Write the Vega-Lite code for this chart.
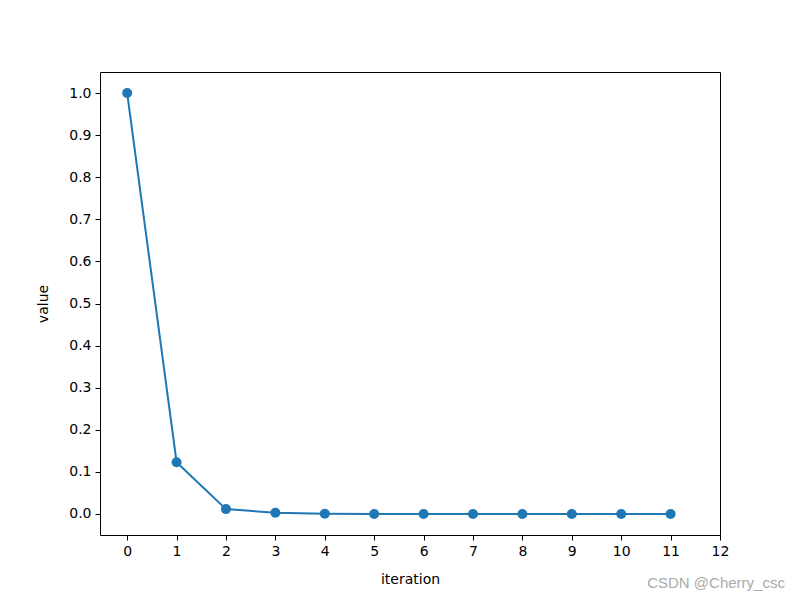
{
  "$schema": "https://vega.github.io/schema/vega-lite/v6.json",
  "autosize": "none",
  "width": 620,
  "height": 463,
  "padding": {"left": 100, "top": 72, "right": 80, "bottom": 65},
  "background": "white",
  "config": {
    "view": {"stroke": "black", "strokeWidth": 1},
    "font": "DejaVu Sans",
    "axis": {
      "grid": false,
      "domain": false,
      "tickColor": "black",
      "tickSize": 5,
      "tickWidth": 1,
      "labelColor": "black",
      "labelFont": "DejaVu Sans",
      "labelFontSize": 14,
      "labelPadding": 4,
      "titleFont": "DejaVu Sans",
      "titleFontSize": 14,
      "titleFontWeight": "normal",
      "titleColor": "black"
    }
  },
  "title": {
    "text": "CSDN @Cherry_csc",
    "orient": "bottom",
    "anchor": "end",
    "fontSize": 15,
    "font": "Liberation Sans",
    "fontWeight": "normal",
    "color": "#aaaaaa",
    "offset": -10,
    "dx": 56
  },
  "data": {
    "values": [
      {"iteration": 0, "value": 1.0},
      {"iteration": 1, "value": 0.123},
      {"iteration": 2, "value": 0.0115},
      {"iteration": 3, "value": 0.003},
      {"iteration": 4, "value": 0.0003},
      {"iteration": 5, "value": 0.00002},
      {"iteration": 6, "value": 0.0},
      {"iteration": 7, "value": 0.0},
      {"iteration": 8, "value": 0.0},
      {"iteration": 9, "value": 0.0},
      {"iteration": 10, "value": 0.0},
      {"iteration": 11, "value": 0.0}
    ]
  },
  "encoding": {
    "x": {
      "field": "iteration",
      "type": "quantitative",
      "scale": {"domain": [-0.55, 12], "nice": false, "zero": false},
      "axis": {"values": [0,1,2,3,4,5,6,7,8,9,10,11,12], "format": "d", "title": "iteration", "titlePadding": 14, "labelFlush": false, "labelOverlap": false}
    },
    "y": {
      "field": "value",
      "type": "quantitative",
      "scale": {"domain": [-0.05, 1.05], "nice": false, "zero": false},
      "axis": {"values": [0,0.1,0.2,0.3,0.4,0.5,0.6,0.7,0.8,0.9,1.0], "format": ".1f", "title": "value", "titlePadding": 18, "labelFlush": false, "labelOverlap": false}
    }
  },
  "layer": [
    {"mark": {"type": "line", "color": "#1f77b4", "strokeWidth": 2}},
    {"mark": {"type": "point", "filled": true, "color": "#1f77b4", "opacity": 1, "size": 100}}
  ]
}
